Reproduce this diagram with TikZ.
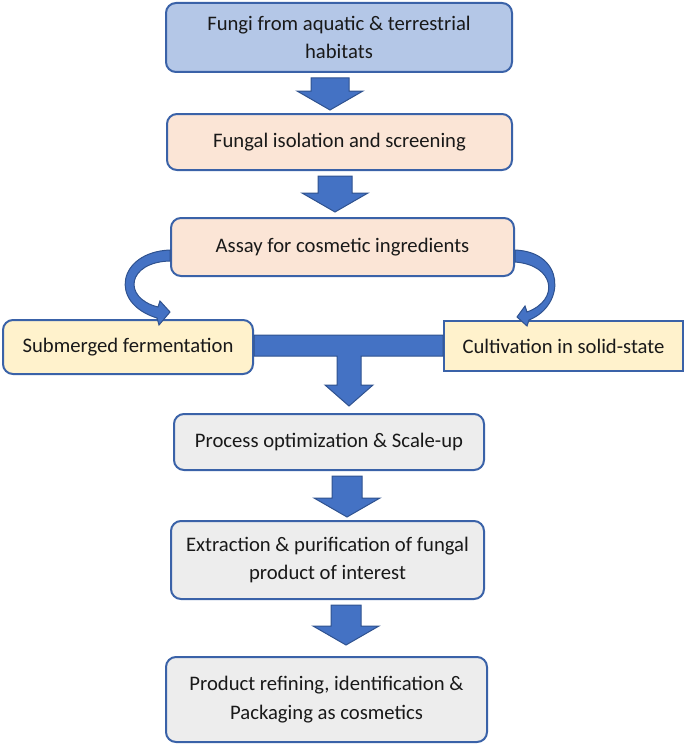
\documentclass[tikz,border=0pt]{standalone}
\usepackage{fontspec}
\setmainfont{Carlito}
\usetikzlibrary{calc}

\definecolor{boxline}{HTML}{3A62A8}
\definecolor{arrowfill}{HTML}{4472C4}
\definecolor{arrowline}{HTML}{2F528F}
\definecolor{bluefill}{HTML}{B4C7E7}
\definecolor{peachfill}{HTML}{FBE5D6}
\definecolor{yellowfill}{HTML}{FFF2CC}
\definecolor{greyfill}{HTML}{EDEDED}

\tikzset{
  stage/.style={draw=boxline,line width=1.5pt,rounded corners=7.5pt,align=center,
    inner sep=2pt,text=black!90,font=\fontsize{15.5}{21.5}\selectfont},
  blockarrow/.style={fill=arrowfill,draw=arrowline,line width=0.75pt,line join=miter}
}

\begin{document}
\begin{tikzpicture}[x=0.75pt,y=-0.75pt]

\useasboundingbox (0,0) rectangle (685,749);

% stages
\node[stage,fill=bluefill,minimum width=259.5pt,minimum height=51.75pt] (fungi) at (339,37.5)
  {Fungi from aquatic \& terrestrial\\habitats};
\node[stage,fill=peachfill,minimum width=258.75pt,minimum height=42pt] (isol) at (339.5,142)
  {Fungal isolation and screening};
\node[stage,fill=peachfill,minimum width=257.25pt,minimum height=43.5pt] (assay) at (342.5,247)
  {Assay for cosmetic ingredients};

% the two routes
\node[stage,fill=yellowfill,minimum width=187.5pt,minimum height=40.5pt] (subm) at (128,347)
  {Submerged fermentation};
\node[stage,fill=yellowfill,rounded corners=0pt,minimum width=179.25pt,minimum height=37.5pt] (solid) at (563.5,346)
  {Cultivation in solid-state};

% later stages
\node[stage,fill=greyfill,minimum width=232.5pt,minimum height=42pt] (optim) at (329,442)
  {Process optimization \& Scale-up};
\node[stage,fill=greyfill,minimum width=234.75pt,minimum height=58.5pt] (extract) at (327.5,560)
  {Extraction \& purification of fungal\\product of interest};
\node[stage,fill=greyfill,minimum width=240.75pt,minimum height=63.75pt] (refine) at (326.5,699.5)
  {Product refining, identification \&\\Packaging as cosmetics};

% straight block arrows
\foreach \src/\dst/\cx/\sw/\hw/\tg in {fungi/isol/330/19/33/3, isol/assay/335/17/33/5,
    optim/extract/347/15/33/3, extract/refine/346/15/33/11}{
  \coordinate (m) at (\cx,0);
  \coordinate (t) at (m |- \src.south);
  \coordinate (h) at (m |- \dst.north);
  \draw[blockarrow] ($(t)+(-\sw,5)$) -- ($(t)+(\sw,5)$) -- ($(h)+(\sw,-\tg-19)$)
    -- ($(h)+(\hw,-\tg-19)$) -- ($(h)+(0,-\tg)$) -- ($(h)+(-\hw,-\tg-19)$)
    -- ($(h)+(-\sw,-\tg-19)$) -- cycle;
}

% curved arrows to the two routes
\draw[blockarrow] (assay.west |- 0,250) .. controls (118,252) and (108,303) .. (157,318)
  -- (159,325) -- (170,312) -- (160,301) -- (158,307)
  .. controls (122,298) and (127,262) .. (assay.west |- 0,261) -- cycle;
\draw[blockarrow] (assay.east |- 0,250) .. controls (565,252) and (566,305) .. (529,320)
  -- (527,326) -- (517,317) -- (525,306) -- (527,312)
  .. controls (560,300) and (555,265) .. (assay.east |- 0,262) -- cycle;

% joining bar
\draw[blockarrow] (subm.east |- 0,335) -- (solid.west |- 0,335) -- (solid.west |- 0,356)
  -- (361,356) -- (361,385) -- (373,385) -- (349,406) -- (325,385) -- (337,385)
  -- (337,356) -- (subm.east |- 0,356) -- cycle;

\end{tikzpicture}
\end{document}
